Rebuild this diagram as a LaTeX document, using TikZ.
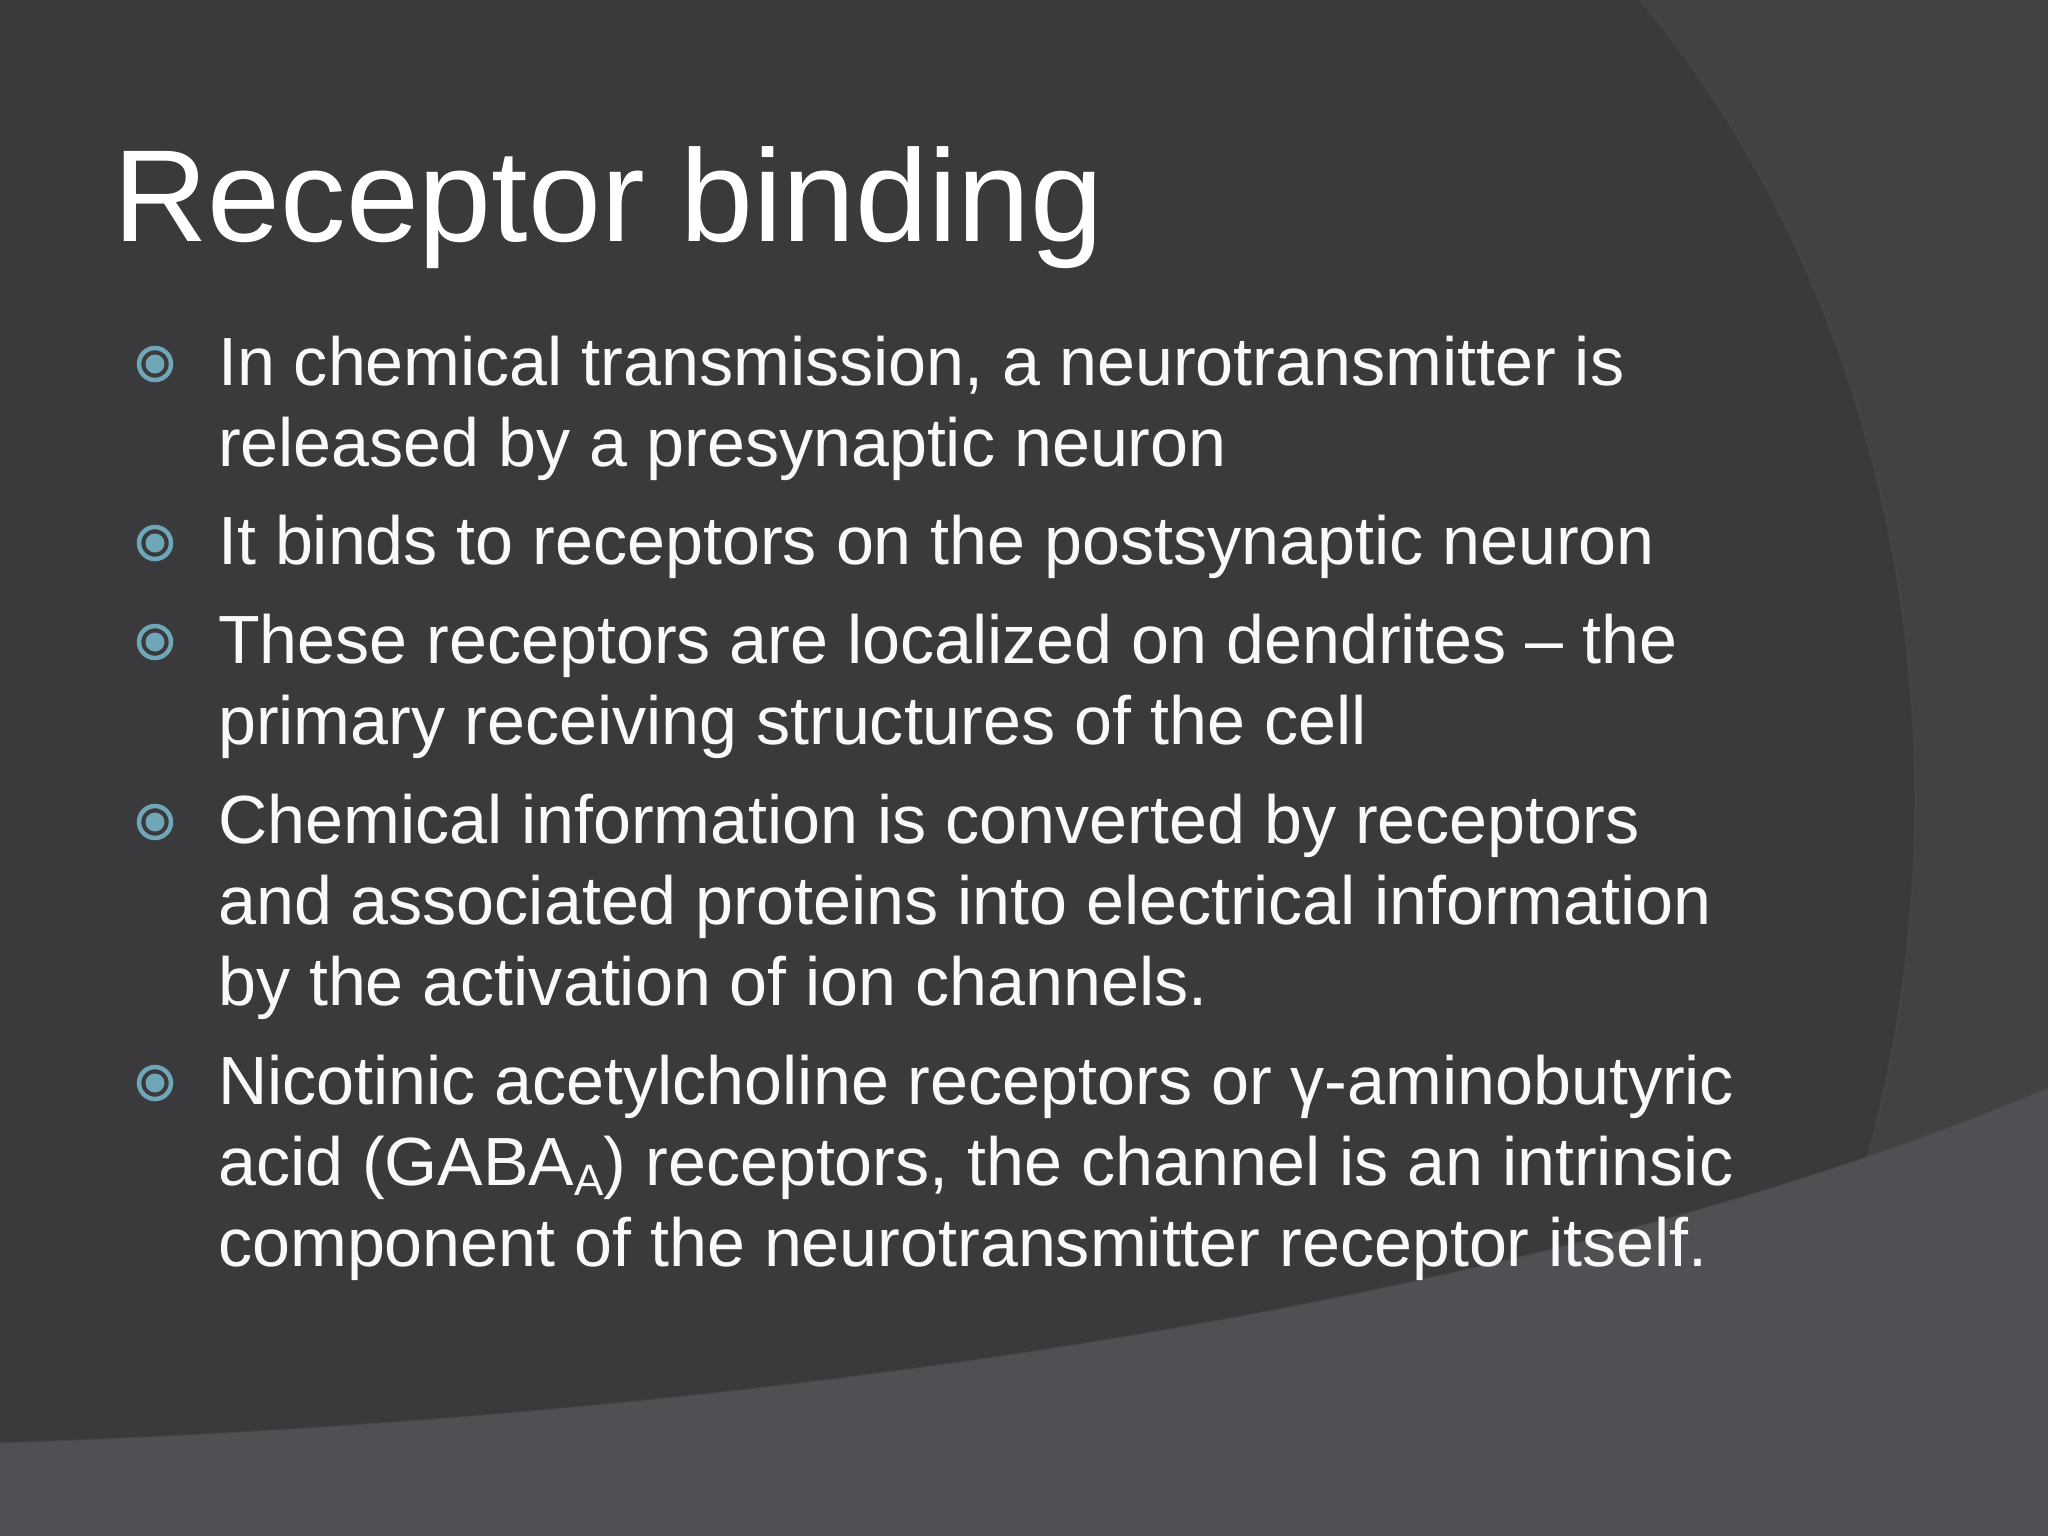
\documentclass[tikz,border=0pt]{standalone}
\usepackage{fontspec}
\setmainfont{Liberation Sans}
\begin{document}
\begin{tikzpicture}[x=1pt,y=-1pt,
  txt/.style={anchor=base west,inner sep=0pt,text=white!95!gray,font=\fontsize{68.2}{80}\selectfont},
  bul/.style={draw=bulc,line width=4.5pt,circle,minimum size=32pt,inner sep=0pt,path picture={\fill[bulc] (path picture bounding box.center) circle (9.5pt);}}]
\definecolor{bg}{HTML}{3A3A3C}
\definecolor{bgr}{HTML}{424243}
\definecolor{bgb}{HTML}{504F53}
\definecolor{bulc}{HTML}{6FA6B8}
\useasboundingbox (0,0) rectangle (2048,1536);
\fill[bg] (0,0) rectangle (2048,1536);
\begin{scope}
\clip (1000,0) rectangle (2048,1536);
\fill[bgr] (1000,0) rectangle (2048,1536);
\fill[bg] (1000,800) ellipse [x radius=915, y radius=1119];
\draw[black!70,line width=1.5pt,opacity=0.5] (1000,800) ellipse [x radius=915, y radius=1119];
\end{scope}
\fill[bgb] (0,1443) .. controls (700,1420) and (1500,1320) .. (2048,1088) -- (2048,1536) -- (0,1536) -- cycle;
\draw[black!70,line width=1.5pt,opacity=0.5] (0,1443) .. controls (700,1420) and (1500,1320) .. (2048,1088);
\node[anchor=base west,inner sep=0pt,text=white,font=\fontsize{131}{150}\selectfont] (title) at (113,241) {Receptor binding};
\foreach \n/\y in {1/385,2/564,3/663,4/843,5/1104}{\node[bul] (b\n) at (155,\y-21) {};}
\node[txt] (l1) at (218,385) {In chemical transmission, a neurotransmitter is};
\node[txt] (l2) at (218,466) {released by a presynaptic neuron};
\node[txt] (l3) at (218,564) {It binds to receptors on the postsynaptic neuron};
\node[txt] (l4) at (218,663) {These receptors are localized on dendrites – the};
\node[txt] (l5) at (218,744) {primary receiving structures of the cell};
\node[txt] (l6) at (218,843) {Chemical information is converted by receptors};
\node[txt] (l7) at (218,924) {and associated proteins into electrical information};
\node[txt] (l8) at (218,1005) {by the activation of ion channels.};
\node[txt] (l9) at (218,1104) {Nicotinic acetylcholine receptors or γ-aminobutyric};
\node[txt] (l10) at (218,1185) {acid (GABA\raisebox{-0.3ex}{\fontsize{44}{50}\selectfont A}) receptors, the channel is an intrinsic};
\node[txt] (l11) at (218,1266) {component of the neurotransmitter receptor itself.};
\end{tikzpicture}
\end{document}
